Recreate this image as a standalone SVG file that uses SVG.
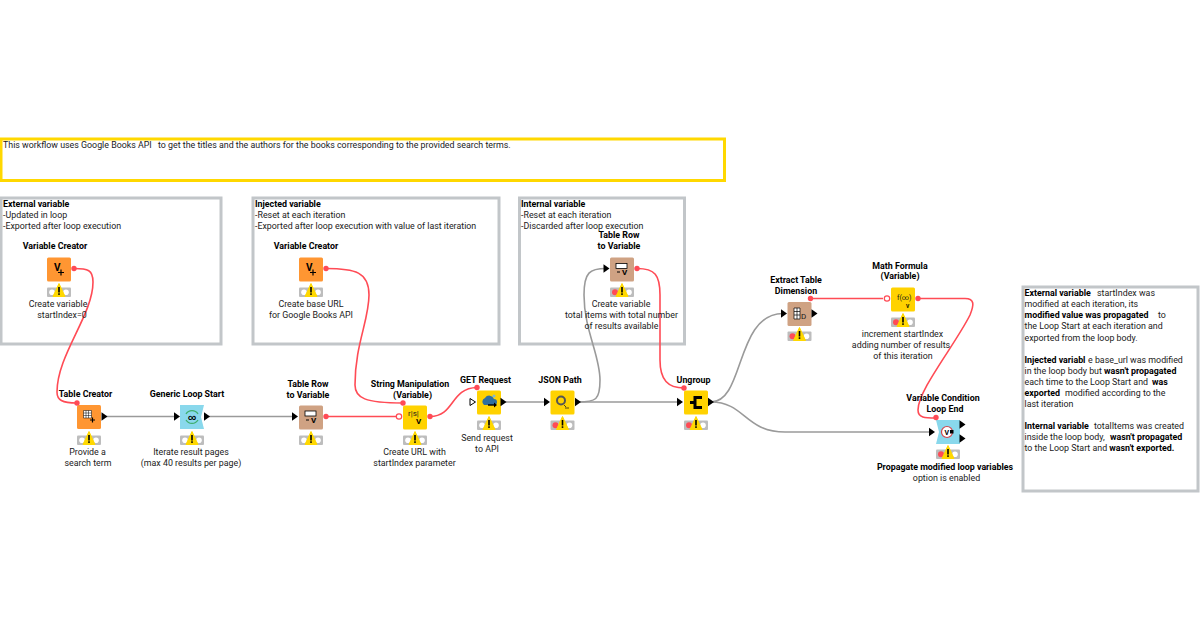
<svg xmlns="http://www.w3.org/2000/svg" width="1200" height="630" viewBox="0 0 1200 630">
<style>
text{font-family:Roboto,"Liberation Sans",sans-serif;font-size:8.85px;fill:#1a1a1a}
.t{font-weight:700;text-anchor:middle;fill:#000}
.c{text-anchor:middle}
.b{font-weight:700;fill:#000}
.box{fill:#fff;stroke:#c2c6c9;stroke-width:3}
.v{fill:none;stroke:#ff4b55;stroke-width:1.6}
.d{fill:none;stroke:#9a9a9a;stroke-width:1.6}
.pv{fill:#ff4b55}
.po{fill:#fff;stroke:#ff4b55;stroke-width:1.2}
.g{stroke:#000;stroke-width:1.2;fill:none}
.k{fill:#000}
</style>
<defs>
<g id="st"><rect x="0" y="30.500" width="24" height="9.500" rx="1" fill="#bdbdbd"/><circle cx="5" cy="35.200" r="2.800" fill="#fff"/><circle cx="19" cy="35.200" r="2.800" fill="#fff"/><path d="M12 26.500L18 39.500H6Z" fill="#ffd800" stroke="#ffd800" stroke-linejoin="round"/><rect x="11.200" y="30" width="1.600" height="5.500" fill="#000"/><rect x="11.200" y="36.300" width="1.600" height="1.600" fill="#000"/></g>
<g id="sr"><rect x="0" y="30.500" width="24" height="9.500" rx="1" fill="#bdbdbd"/><circle cx="5" cy="35.200" r="3" fill="#ff4b55"/><circle cx="19" cy="35.200" r="2.800" fill="#fff"/><path d="M12 26.500L18 39.500H6Z" fill="#ffd800" stroke="#ffd800" stroke-linejoin="round"/><rect x="11.200" y="30" width="1.600" height="5.500" fill="#000"/><rect x="11.200" y="36.300" width="1.600" height="1.600" fill="#000"/></g>
<path id="a" d="M0-4.200L6 0L0 4.200Z" fill="#000"/>
</defs>

<rect x="1" y="139" width="723.500" height="41.500" fill="#fff" stroke="#ffd800" stroke-width="3"/>
<text x="3" y="148">This workflow uses Google Books API</text><text x="158" y="148">to get the titles and the authors for the books corresponding to the provided search terms.</text>

<rect class="box" x="1" y="198" width="220" height="146"/>
<text class="b" x="3" y="207">External variable</text>
<text x="3" y="218">-Updated in loop</text>
<text x="3" y="229">-Exported after loop execution</text>

<rect class="box" x="253" y="198" width="246" height="146"/>
<text class="b" x="255" y="207">Injected variable</text>
<text x="255" y="218">-Reset at each iteration</text>
<text x="255" y="229">-Exported after loop execution with value of last iteration</text>

<rect class="box" x="519.500" y="198" width="165" height="146"/>
<text class="b" x="521" y="207">Internal variable</text>
<text x="521" y="218">-Reset at each iteration</text>
<text x="521" y="229">-Discarded after loop execution</text>

<rect class="box" x="1023" y="287" width="175" height="204"/>
<text class="b" x="1024.500" y="296">External variable</text><text x="1097" y="296">startIndex was</text>
<text x="1024.500" y="307">modified at each iteration, its</text>
<text class="b" x="1024.500" y="318">modified value was propagated</text><text x="1158" y="318">to</text>
<text x="1024.500" y="329">the Loop Start at each iteration and</text>
<text x="1024.500" y="341">exported from the loop body.</text>
<text class="b" x="1024.500" y="363">Injected variabl</text><text x="1088" y="363">e base_url was modified</text>
<text x="1024.500" y="374">in the loop body but <tspan class="b">wasn't propagated</tspan></text>
<text x="1024.500" y="385">each time to the Loop Start and</text><text class="b" x="1152" y="385">was</text>
<text class="b" x="1024.500" y="396">exported</text><text x="1065" y="396">modified according to the</text>
<text x="1024.500" y="407">last iteration</text>
<text class="b" x="1024.500" y="429">Internal variable</text><text x="1094" y="429">totalItems was created</text>
<text x="1024.500" y="440">inside the loop body,</text><text class="b" x="1110" y="440">wasn't propagated</text>
<text x="1024.500" y="451">to the Loop Start and <tspan class="b">wasn't exported.</tspan></text>

<g id="connectors">
<path class="v" d="M74 268.500C88 268.500 93 270 93 282C93 315 57 355 57 392C57 400 62 403 77 403"/>
<path class="v" d="M326 268.500C355 268.500 369 272 369 295C369 320 355 345 355 385C355 398 365 403 403 403"/>
<path class="v" d="M326 416.500H398"/>
<path class="v" d="M430 416.500C455 416.500 450 388 477 387.500"/>
<path class="d" d="M104 416.500H175M207 416.500H295"/>
<path class="d" d="M503 402H546M578 402H680"/>
<path class="d" d="M578 402C596 402 600 400 600 380C600 355 584 330 584 295C584 272 590 268.500 606 268.500"/>
<path class="v" d="M637 268.500C655 268.500 660 275 660 295V360C660 380 668 388 684 388"/>
<path class="d" d="M711 402C745 402 735 314 783 313.500"/>
<path class="d" d="M711 402C745 402 745 432 785 432H930"/>
<path class="v" d="M811 298.500H883"/>
<path class="v" d="M918 298.500H965C975 298.500 974 305 970 315C955 345 918 390 918 410C918 418 925 418 936 418"/>
</g>

<g id="n-var1"><use href="#st" x="47" y="257"/><rect x="47" y="257.500" width="24" height="24" rx="1.500" fill="#ff9632"/><text x="54" y="271" class="b" style="font-size:10px">V</text><path class="g" d="M58 272.500h6M61 269.500v6"/><circle class="pv" cx="74" cy="268.500" r="2.700"/><text class="t" x="55" y="249">Variable Creator</text><text class="c" x="58" y="307">Create variable</text><text class="c" x="62" y="318">startIndex=0</text></g>

<g id="n-var2"><use href="#st" x="299" y="257"/><rect x="299" y="257.500" width="24" height="24" rx="1.500" fill="#ff9632"/><text x="306" y="271" class="b" style="font-size:10px">V</text><path class="g" d="M310 272.500h6M313 269.500v6"/><circle class="pv" cx="326" cy="268.500" r="2.700"/><text class="t" x="306" y="249">Variable Creator</text><text class="c" x="311" y="307">Create base URL</text><text class="c" x="311" y="318">for Google Books API</text></g>

<g id="n-table"><use href="#st" x="77" y="405"/><rect x="77" y="405" width="24" height="24" rx="1.500" fill="#ff9632"/><path d="M83.500 410.500h8v7.500h-8Z" fill="#fff"/><path d="M83.500 410.500h8M83.500 413h8M83.500 415.500h8M83.500 418h8M83.500 410.500v7.500M86 410.500v7.500M88.500 410.500v7.500M91.500 410.500v7.500" stroke="#000" stroke-width=".5" fill="none"/><path class="g" d="M90 420h5M92.500 417.500v5"/><use href="#a" x="101.500" y="416.500"/><circle class="pv" cx="77" cy="403" r="2.700"/><text class="t" x="85.500" y="397">Table Creator</text><text class="c" x="87.500" y="455">Provide a</text><text class="c" x="88" y="466">search term</text></g>

<g id="n-loopstart"><use href="#st" x="180" y="405"/><path d="M180 405H204L201 417L204 429H180Z" fill="#89d8ec"/><path d="M186 414A7 7 0 0 1 198 414M198 420A7 7 0 0 1 186 420" fill="none" stroke="#3fae6d" stroke-width="1.300"/><text class="b" x="188" y="420" style="font-size:8px">∞</text><use href="#a" x="174" y="416.500"/><use href="#a" x="204" y="416.500"/><text class="t" x="187" y="397">Generic Loop Start</text><text class="c" x="191" y="455">Iterate result pages</text><text class="c" x="191" y="466">(max 40 results per page)</text></g>

<g id="n-trv1"><use href="#st" x="299" y="405"/><rect x="299" y="405.500" width="24" height="24" rx="1.500" fill="#cfa283"/><rect x="305" y="411" width="11" height="5" fill="#fff" stroke="#000" stroke-width=".8"/><text class="b" x="311" y="423" style="font-size:8px">V</text><path d="M306 420h3" stroke="#000"/><use href="#a" x="292" y="416.500"/><circle class="pv" cx="326" cy="416.500" r="2.700"/><text class="t" x="308" y="387">Table Row</text><text class="t" x="308" y="398">to Variable</text></g>

<g id="n-strman"><use href="#st" x="403" y="405"/><rect x="403" y="405.500" width="24" height="24" rx="1.500" fill="#ffd200"/><text x="408" y="416" style="font-size:8px" fill="#000">r|s|</text><text class="b" x="416" y="424" style="font-size:8px">V</text><circle class="po" cx="399" cy="416.500" r="2.700"/><circle class="pv" cx="430" cy="416.500" r="2.700"/><circle class="pv" cx="403" cy="403" r="2.700"/><text class="t" x="410" y="387">String Manipulation</text><text class="t" x="412.500" y="398">(Variable)</text><text class="c" x="414.500" y="455">Create URL with</text><text class="c" x="414.500" y="466">startIndex parameter</text></g>

<g id="n-get"><use href="#st" x="477" y="390"/><rect x="477" y="390.500" width="24" height="24" rx="1.500" fill="#ffd200"/><path d="M484 405a4 4 0 0 1 1-7a5 5 0 0 1 9 1a3 3 0 0 1 0 6Z" fill="#2f6fa0"/><circle cx="494" cy="396" r="1.500" fill="#7fb8d8"/><path d="M488 405h7" stroke="#000" stroke-width="1.400"/><path d="M494 402.500l3 2.500l-3 2.500Z" fill="#000"/><path d="M470 398.500L475.500 402L470 405.500Z" fill="#fff" stroke="#000"/><use href="#a" x="500.500" y="402"/><circle class="pv" cx="477" cy="387.500" r="2.700"/><text class="t" x="485.500" y="383">GET Request</text><text class="c" x="487" y="441">Send request</text><text class="c" x="487" y="452">to API</text></g>

<g id="n-json"><use href="#sr" x="550.500" y="390"/><rect x="550.500" y="390.500" width="24" height="24" rx="1.500" fill="#ffd200"/><circle cx="561" cy="400.500" r="4" fill="none" stroke="#555" stroke-width="2"/><path d="M564 405l2 2M565 408h4" stroke="#222" stroke-width=".8"/><use href="#a" x="544" y="402"/><use href="#a" x="575" y="402"/><text class="t" x="560" y="383">JSON Path</text></g>

<g id="n-trv2"><use href="#sr" x="610" y="257"/><rect x="610" y="257.500" width="24" height="24" rx="1.500" fill="#cfa283"/><rect x="616" y="263.500" width="11" height="5" fill="#fff" stroke="#000" stroke-width=".8"/><text class="b" x="622" y="275" style="font-size:8px">V</text><path d="M617 272h3" stroke="#000"/><use href="#a" x="603.500" y="268.500"/><circle class="pv" cx="637" cy="268.500" r="2.700"/><text class="t" x="619" y="238">Table Row</text><text class="t" x="619" y="249">to Variable</text><text class="c" x="621" y="307">Create variable</text><text class="c" x="621.500" y="318">total items with total number</text><text class="c" x="621.500" y="329">of results available</text></g>

<g id="n-ungroup"><use href="#sr" x="684" y="390"/><rect x="684" y="390.500" width="24" height="24" rx="1.500" fill="#ffd200"/><path d="M690 402.500H695M702 397.500H695V407.500H702" stroke="#000" stroke-width="3" fill="none"/><use href="#a" x="677" y="402"/><use href="#a" x="708" y="402"/><circle class="pv" cx="684" cy="388" r="2.700"/><text class="t" x="693.500" y="383">Ungroup</text></g>

<g id="n-extract"><use href="#sr" x="787.500" y="301"/><rect x="787.500" y="302" width="24" height="24" rx="1.500" fill="#cfa283"/><path d="M794 308h6v11h-6ZM794 311.500h6M794 315h6M797 308v11" fill="#fff" stroke="#000" stroke-width=".7"/><text x="801" y="319" style="font-size:8px" fill="#000">D</text><use href="#a" x="781" y="313.500"/><use href="#a" x="811.500" y="313.500"/><circle class="pv" cx="810.500" cy="298.500" r="2.700"/><text class="t" x="796" y="283">Extract Table</text><text class="t" x="796" y="294">Dimension</text></g>

<g id="n-math"><use href="#sr" x="891" y="287"/><rect x="891" y="287.500" width="24" height="24" rx="1.500" fill="#ffd200"/><text x="897" y="300" style="font-size:7px" fill="#000">f(∞)</text><text class="b" x="906" y="307.500" style="font-size:5px">V</text><circle class="po" cx="887" cy="298.500" r="2.700"/><circle class="pv" cx="918" cy="298.500" r="2.700"/><text class="t" x="900" y="269">Math Formula</text><text class="t" x="900" y="279">(Variable)</text><text class="c" x="902.500" y="337">increment startIndex</text><text class="c" x="901" y="348">adding number of results</text><text class="c" x="903" y="359">of this iteration</text></g>

<g id="n-loopend"><use href="#sr" x="936" y="419"/><path d="M936 420H960V444H936L939 432Z" fill="#89d8ec"/><circle cx="947" cy="432" r="5.500" fill="#fff" stroke="#d0434b" stroke-width="1.200"/><text class="b" x="944.500" y="435" style="font-size:7px">V</text><rect x="950" y="430" width="3.500" height="3.500" fill="#000"/><use href="#a" x="929" y="432"/><use href="#a" x="959.500" y="424.500"/><use href="#a" x="959.500" y="438.500"/><circle class="pv" cx="936" cy="417.500" r="2.700"/><text class="t" x="943" y="401">Variable Condition</text><text class="t" x="945" y="412">Loop End</text><text class="t" x="945" y="470">Propagate modified loop variables</text><text class="c" x="946.500" y="481">option is enabled</text></g>
</svg>
